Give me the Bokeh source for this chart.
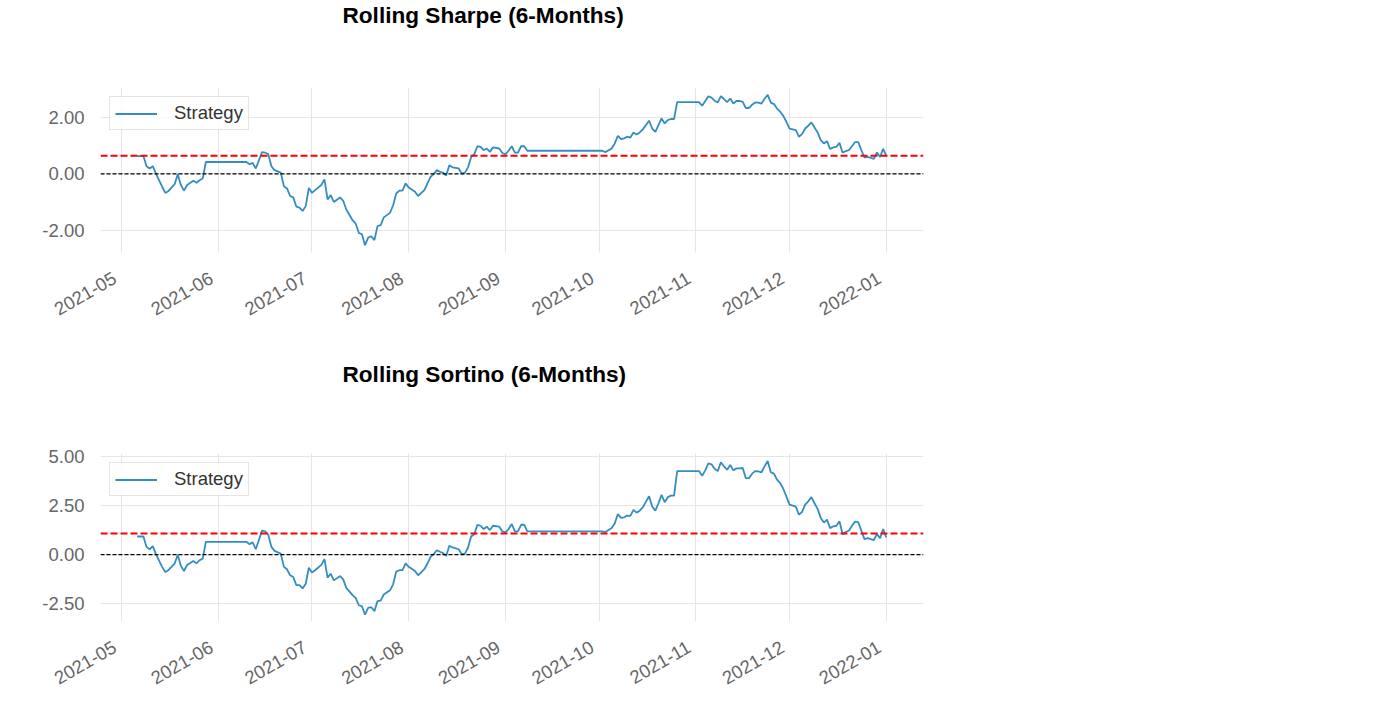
import math
from datetime import datetime, timedelta

import pandas as pd
from bokeh.plotting import figure
from bokeh.layouts import column
from bokeh.models import (
    ColumnDataSource,
    Span,
    Title,
    Range1d,
    DatetimeAxis,
    FixedTicker,
    NumeralTickFormatter,
    DatetimeTickFormatter,
    MonthsTicker,
)
from bokeh.embed import file_html
from bokeh.resources import INLINE

# values
dates = [
    "2021-05-06", "2021-05-08", "2021-05-09", "2021-05-10", "2021-05-11", "2021-05-12", "2021-05-14",
    "2021-05-15", "2021-05-16", "2021-05-18", "2021-05-19", "2021-05-20", "2021-05-21", "2021-05-22",
    "2021-05-24", "2021-05-25", "2021-05-26", "2021-05-27", "2021-05-28",
    "2021-06-10", "2021-06-11", "2021-06-12", "2021-06-13", "2021-06-15", "2021-06-16", "2021-06-17",
    "2021-06-18", "2021-06-19", "2021-06-21", "2021-06-22", "2021-06-23", "2021-06-24", "2021-06-25",
    "2021-06-26", "2021-06-27", "2021-06-28", "2021-06-29", "2021-06-30",
    "2021-07-01", "2021-07-02", "2021-07-04", "2021-07-05", "2021-07-06", "2021-07-07", "2021-07-08",
    "2021-07-10", "2021-07-11", "2021-07-12", "2021-07-14", "2021-07-15", "2021-07-16", "2021-07-17",
    "2021-07-18", "2021-07-19", "2021-07-20", "2021-07-21", "2021-07-22", "2021-07-23", "2021-07-24",
    "2021-07-26", "2021-07-27", "2021-07-28", "2021-07-29", "2021-07-30", "2021-07-31",
    "2021-08-01", "2021-08-03", "2021-08-04", "2021-08-06", "2021-08-07", "2021-08-08", "2021-08-09",
    "2021-08-10", "2021-08-11", "2021-08-12", "2021-08-13", "2021-08-14", "2021-08-15", "2021-08-17",
    "2021-08-18", "2021-08-19", "2021-08-20", "2021-08-21", "2021-08-22", "2021-08-23", "2021-08-24",
    "2021-08-25", "2021-08-26", "2021-08-27", "2021-08-28", "2021-08-30", "2021-08-31",
    "2021-09-01", "2021-09-02", "2021-09-03", "2021-09-04", "2021-09-05", "2021-09-06", "2021-09-07",
    "2021-09-08",
    "2021-10-02", "2021-10-03", "2021-10-05", "2021-10-06", "2021-10-07", "2021-10-08", "2021-10-09",
    "2021-10-10", "2021-10-11", "2021-10-12", "2021-10-13", "2021-10-14", "2021-10-15", "2021-10-17",
    "2021-10-18", "2021-10-19", "2021-10-20", "2021-10-21", "2021-10-22", "2021-10-23", "2021-10-24",
    "2021-10-25", "2021-10-26",
    "2021-11-02", "2021-11-03", "2021-11-04", "2021-11-05", "2021-11-06", "2021-11-07", "2021-11-08",
    "2021-11-09", "2021-11-10", "2021-11-11", "2021-11-12", "2021-11-13", "2021-11-14", "2021-11-15",
    "2021-11-16", "2021-11-17", "2021-11-18", "2021-11-19", "2021-11-20", "2021-11-21", "2021-11-22",
    "2021-11-23", "2021-11-24", "2021-11-25", "2021-11-26", "2021-11-27", "2021-11-28", "2021-11-29",
    "2021-11-30",
    "2021-12-01", "2021-12-02", "2021-12-03", "2021-12-04", "2021-12-05", "2021-12-06", "2021-12-07",
    "2021-12-08", "2021-12-09", "2021-12-10", "2021-12-11", "2021-12-12", "2021-12-13", "2021-12-14",
    "2021-12-15", "2021-12-16", "2021-12-17", "2021-12-18", "2021-12-19", "2021-12-20", "2021-12-21",
    "2021-12-22", "2021-12-23", "2021-12-24", "2021-12-25", "2021-12-26", "2021-12-27", "2021-12-28",
    "2021-12-29", "2021-12-30", "2021-12-31",
    "2022-01-01",
]

sharpe = [
    0.63, 0.63, 0.27, 0.19, 0.27, 0.01, -0.46, -0.68, -0.62, -0.37, -0.02, -0.40, -0.60, -0.40,
    -0.25, -0.32, -0.23, -0.17, 0.42,
    0.42, 0.34, 0.39, 0.19, 0.77, 0.75, 0.70, 0.27, 0.13, 0.04, -0.44, -0.52, -0.79, -0.84,
    -1.17, -1.20, -1.32, -1.15, -0.50,
    -0.68, -0.58, -0.40, -0.20, -0.91, -0.76, -1.00, -0.84, -0.96, -1.27, -1.65, -1.77, -2.10, -2.15,
    -2.54, -2.27, -2.22, -2.36, -1.86, -1.83, -1.55, -1.39, -1.12, -0.70, -0.60, -0.60, -0.34,
    -0.49, -0.64, -0.79, -0.58, -0.34, -0.11, -0.01, 0.13, 0.07, 0.04, -0.06, 0.30, 0.23, 0.19,
    0.01, 0.04, 0.23, 0.60, 0.70, 0.98, 0.96, 0.84, 0.90, 0.78, 0.94, 0.90, 0.74,
    0.70, 0.82, 0.98, 0.75, 0.75, 0.98, 0.98, 0.82,
    0.82, 0.77, 0.90, 1.08, 1.35, 1.23, 1.26, 1.32, 1.29, 1.47, 1.40, 1.47, 1.58, 1.89,
    1.61, 1.49, 1.73, 1.97, 1.79, 1.91, 1.95, 1.95, 2.55,
    2.55, 2.42, 2.59, 2.76, 2.71, 2.60, 2.54, 2.76, 2.66, 2.55, 2.68, 2.50, 2.59, 2.59,
    2.56, 2.34, 2.34, 2.46, 2.54, 2.53, 2.50, 2.67, 2.81, 2.53, 2.48, 2.32, 2.21, 2.06, 1.85,
    1.61, 1.58, 1.55, 1.32, 1.41, 1.61, 1.71, 1.83, 1.65, 1.47, 1.20, 1.08, 1.16, 0.88,
    0.94, 0.96, 1.10, 0.75, 0.81, 0.84, 0.98, 1.13, 1.13, 0.84, 0.58, 0.60, 0.57, 0.53,
    0.76, 0.60, 0.89,
    0.63,
]

sortino = [
    0.92, 0.92, 0.39, 0.27, 0.43, 0.02, -0.63, -0.89, -0.80, -0.46, -0.02, -0.58, -0.84, -0.53,
    -0.33, -0.45, -0.29, -0.21, 0.65,
    0.65, 0.53, 0.62, 0.27, 1.22, 1.18, 1.01, 0.39, 0.19, 0.05, -0.63, -0.75, -1.06, -1.15,
    -1.56, -1.56, -1.73, -1.49, -0.67,
    -0.92, -0.80, -0.53, -0.24, -1.18, -0.98, -1.32, -1.10, -1.27, -1.70, -2.07, -2.21, -2.59, -2.64,
    -3.07, -2.72, -2.69, -2.89, -2.38, -2.35, -2.04, -1.83, -1.52, -0.87, -0.80, -0.80, -0.45,
    -0.63, -0.84, -1.06, -0.75, -0.46, -0.12, 0.02, 0.22, 0.14, 0.07, -0.07, 0.45, 0.36, 0.27,
    0.02, 0.05, 0.36, 0.92, 1.04, 1.52, 1.47, 1.30, 1.42, 1.25, 1.47, 1.42, 1.18,
    1.13, 1.30, 1.56, 1.18, 1.18, 1.52, 1.52, 1.18,
    1.18, 1.15, 1.35, 1.59, 2.07, 1.87, 1.90, 1.99, 1.97, 2.28, 2.14, 2.24, 2.41, 2.98,
    2.45, 2.24, 2.62, 3.05, 2.67, 2.93, 3.01, 3.01, 4.26,
    4.26, 4.02, 4.30, 4.66, 4.61, 4.38, 4.26, 4.71, 4.50, 4.33, 4.57, 4.30, 4.40, 4.40,
    4.42, 3.90, 3.90, 4.13, 4.26, 4.25, 4.20, 4.50, 4.78, 4.20, 4.13, 3.82, 3.65, 3.36, 2.96,
    2.55, 2.50, 2.45, 2.04, 2.17, 2.55, 2.72, 2.93, 2.62, 2.33, 1.87, 1.63, 1.78, 1.35,
    1.44, 1.47, 1.70, 1.04, 1.15, 1.22, 1.47, 1.68, 1.66, 1.22, 0.79, 0.84, 0.79, 0.74,
    1.04, 0.84, 1.30,
    0.87,
]

sharpe_mean = 0.64
sortino_mean = 1.08
sharpe_ticks = [-2.0, 0.0, 2.0]
sortino_ticks = [-2.5, 0.0, 2.5, 5.0]

assert len(dates) == len(sharpe) == len(sortino)

FONT = "Liberation Sans"
X_START = datetime(2021, 4, 24, 6)
X_END = datetime(2022, 1, 12, 22)
# rotated labels: matplotlib puts the label's top-right corner on the tick,
# bokeh its right-middle point, so the label axis runs ~7px (2.2 days) shifted
LABEL_SHIFT = timedelta(hours=54)


def month_ticker():
    return MonthsTicker(months=list(range(1, 13)))


def make_plot(titel, values, mean, y_lo, y_hi, yticks, height, border_top, border_bottom, gap):
    source = ColumnDataSource(data=dict(date=pd.to_datetime(dates), val=values))

    p = figure(
        width=948, height=height, x_axis_type="datetime", x_axis_location=None,
        x_range=Range1d(X_START, X_END),
        y_range=Range1d(y_lo, y_hi),
        title=titel, output_backend="svg", toolbar_location=None,
        min_border_left=100, min_border_right=25,
        min_border_top=border_top, min_border_bottom=border_bottom,
    )
    p.title.text_font = FONT
    p.title.text_font_size = "22.6px"
    p.title.text_font_style = "bold"
    p.title.text_color = "black"
    p.title.align = "left"
    p.title.offset = 242
    p.title.standoff = 0
    # empty title between the frame and the real title, to push the title up
    p.add_layout(Title(text=" ", text_font_size="10px", standoff=gap), "above")
    p.outline_line_color = None
    p.background_fill_color = "white"

    p.line("date", "val", source=source, line_color="#348dc1", line_width=1.8,
           legend_label="Strategy")

    p.add_layout(Span(location=mean, dimension="width", line_color="red",
                      line_width=2, line_dash="7 3"))
    p.add_layout(Span(location=0, dimension="width", line_color="black",
                      line_width=1.2, line_dash="4 2"))

    p.extra_x_ranges = {"lbl": Range1d(X_START + LABEL_SHIFT, X_END + LABEL_SHIFT)}
    xax = DatetimeAxis(x_range_name="lbl", ticker=month_ticker(),
                       formatter=DatetimeTickFormatter(months="%Y-%m", days="%Y-%m", years="%Y-%m"))
    xax.major_label_orientation = math.pi / 6
    p.add_layout(xax, "below")
    p.xgrid.ticker = month_ticker()

    p.yaxis.ticker = FixedTicker(ticks=yticks)
    p.yaxis.formatter = NumeralTickFormatter(format="0.00")

    for ax in (xax, p.yaxis[0]):
        ax.axis_line_color = None
        ax.major_tick_line_color = None
        ax.minor_tick_line_color = None
        ax.major_tick_in = 0
        ax.major_tick_out = 0
        ax.major_label_text_font = FONT
        ax.major_label_text_font_size = "18.5px"
        ax.major_label_text_color = "#666666"
    p.yaxis.major_label_standoff = 16
    xax.major_label_standoff = 24

    p.grid.grid_line_color = "#e6e6e6"
    p.grid.grid_line_width = 1

    p.legend.location = "top_left"
    p.legend.margin = 9
    p.legend.padding = 5
    p.legend.glyph_width = 42
    p.legend.glyph_height = 15
    p.legend.label_height = 15
    p.legend.label_standoff = 17
    p.legend.label_text_font = FONT
    p.legend.label_text_font_size = "18.5px"
    p.legend.label_text_color = "#333333"
    p.legend.border_line_color = "#cccccc"
    p.legend.background_fill_alpha = 0.8
    return p


p1 = make_plot("Rolling Sharpe (6-Months)", sharpe, sharpe_mean, -2.80, 3.07,
               sharpe_ticks, 340, 87, 88, 47)
p2 = make_plot("Rolling Sortino (6-Months)", sortino, sortino_mean, -3.42, 5.16,
               sortino_ticks, 380, 113, 99, 54)

p = column(p1, p2)

open("out.html", "w").write(file_html(p, INLINE))
